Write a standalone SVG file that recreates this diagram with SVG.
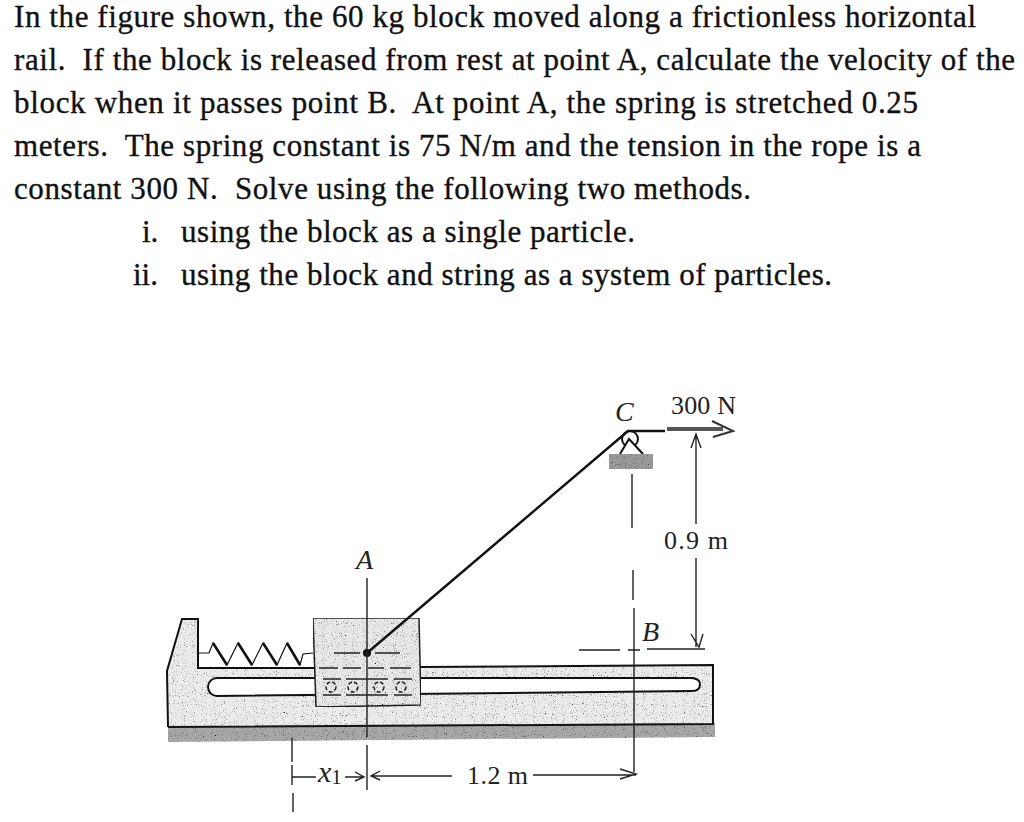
<svg xmlns="http://www.w3.org/2000/svg" width="1024" height="822" viewBox="0 0 1024 822">
<style>
.t{font-family:"Liberation Serif","Times New Roman",serif;font-size:31px;fill:#111;stroke:#111;stroke-width:.35;white-space:pre}
.l{font-family:"Liberation Serif","Times New Roman",serif;font-size:26px;fill:#222}
.i{font-style:italic;font-size:28px}
.s{fill:none;stroke:#222;stroke-width:1.4}
.o{fill:none;stroke:#111;stroke-width:2}
.h{fill:none;stroke:#222;stroke-width:1.5}
</style>
<defs>
<filter id="stip" x="0" y="0" width="100%" height="100%">
<feTurbulence type="fractalNoise" baseFrequency="0.9" numOctaves="2" seed="4" result="n"/>
<feColorMatrix in="n" type="matrix" values="0 0 0 0 0  0 0 0 0 0  0 0 0 0 0  3.5 0 0 0 -2.05" result="d"/>
<feComposite in="d" in2="SourceAlpha" operator="in" result="dots"/>
<feMerge><feMergeNode in="SourceGraphic"/><feMergeNode in="dots"/></feMerge>
</filter>
</defs>
<rect width="1024" height="822" fill="#fff"/>
<g id="problem-text" class="t">
<text x="14" y="27" textLength="962" xml:space="preserve">In the figure shown, the 60 kg block moved along a frictionless horizontal</text>
<text x="14" y="70" textLength="1001" xml:space="preserve">rail.  If the block is released from rest at point A, calculate the velocity of the</text>
<text x="14" y="113" textLength="904" xml:space="preserve">block when it passes point B.  At point A, the spring is stretched 0.25</text>
<text x="14" y="156" textLength="907" xml:space="preserve">meters.  The spring constant is 75 N/m and the tension in the rope is a</text>
<text x="14" y="199" textLength="737" xml:space="preserve">constant 300 N.  Solve using the following two methods.</text>
<text x="142" y="242">i.</text>
<text x="181" y="242" textLength="454">using the block as a single particle.</text>
<text x="133" y="285">ii.</text>
<text x="181" y="285" textLength="651">using the block and string as a system of particles.</text>
</g>
<g id="ground"><path d="M168 727L715 723V737L168 742Z" fill="#a8a8a8" filter="url(#stip)"/></g>
<g id="rail">
<path d="M168 727L167 671L182 619H198V668H314L419 667L713 665V724Z" fill="#ececec" filter="url(#stip)"/>
<path d="M168 727L167 671L182 619H198V668H314M419 667L713 665V724L168 727" class="o"/>
<path d="M217 678H692Q700 679 700 684Q700 691 692 691L217 696A9 9 0 0 1 217 678Z" fill="#fff" stroke="#111" stroke-width="2"/>
</g>
<g id="spring">
<path d="M199 653H209L213 643L227 665L238 643L252 665L263 643L277 665L287 643L300 665L303 654L313 653" fill="none" stroke="#111" stroke-width="1.2"/>
<path d="M213 643L227 665M238 643L252 665M263 643L277 665M287 643L300 665" fill="none" stroke="#111" stroke-width="2.6"/>
</g>
<g id="block">
<path d="M313 618H419L421 705L316 707Z" fill="#e8e8e8" stroke="#222" stroke-width="1.5" filter="url(#stip)"/>
<path d="M334 653H360M375 653H400M319 668H338M343 668H361M368 668H384M390 668H411M323 679H341M346 679H388M394 679H412M323 695H341M346 695H388M394 695H412" class="h"/>
<circle cx="331" cy="687" r="5" class="h" stroke-dasharray="4 2"/><circle cx="353" cy="687" r="5" class="h" stroke-dasharray="4 2"/><circle cx="379" cy="687" r="5" class="h" stroke-dasharray="4 2"/><circle cx="401" cy="687" r="5" class="h" stroke-dasharray="4 2"/>
<circle cx="367" cy="653" r="4" fill="#111"/>
<text class="l i" x="356" y="569">A</text>
</g>
<g id="pulley-C">
<circle cx="630" cy="439" r="8" fill="#fff" stroke="#111" stroke-width="2"/>
<path d="M620 454L629 439L643 454" fill="#fff" stroke="#111" stroke-width="2"/>
<rect x="609" y="454" width="44" height="15" fill="#9a9a9a" filter="url(#stip)"/>
<text class="l i" x="615" y="421">C</text>
</g>
<g id="point-B"><path d="M579 650H620M628 650H640M647 649H705" class="s"/><text class="l i" x="642" y="641">B</text></g>
<g id="connectors" fill="none">
<path d="M367 653L628 431H665" stroke="#111" stroke-width="2.4"/>
<path d="M667 429H723" stroke="#555" stroke-width="4"/>
<path d="M712 421L733 431L713 437" stroke="#333" stroke-width="2"/>
<path d="M696 524V434M691 448L696 434L701 448M696 558V647M691 634L699 647L703 634" class="s"/>
<path d="M367 578V737M367 745V790M632 474V528M633 570V600M634 608V772" class="s"/>
<path d="M292 738V762M292 765V785M293 793V812M292 777H316M345 777H364M355 772L364 777L355 781M371 776H452M380 771L371 776L380 780M533 775H636M620 769L636 774L620 779" class="s"/>
</g>
<g id="labels">
<text class="l" x="671" y="414" textLength="65">300 N</text>
<text class="l" x="664" y="549" textLength="64">0.9 m</text>
<text class="l" x="467" y="784" textLength="61">1.2 m</text>
<text class="l i" x="318" y="782" style="font-size:30px">x<tspan font-size="21" font-style="normal" dy="2">1</tspan></text>
</g>
</svg>
